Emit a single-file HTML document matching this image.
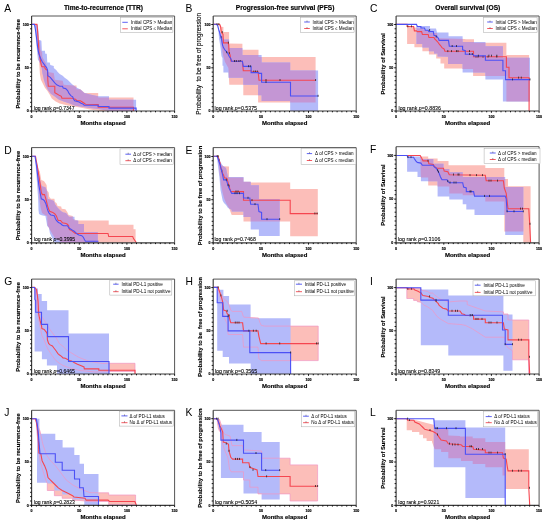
<!DOCTYPE html><html><head><meta charset="utf-8"><style>html,body{margin:0;padding:0;background:#fff;}svg{display:block;will-change:transform;}text{font-family:"Liberation Sans", sans-serif;}</style></head><body>
<svg width="550" height="525" viewBox="0 0 550 525">
<rect width="550" height="525" fill="#fff"/>
<polygon points="31.6,24.4 37.5,24.4 38,30 38.6,40 39.9,42 40.5,50 42,52 42.4,57 44,60 46.3,64 47.8,71.9 53.8,72.9 54.8,79.8 62.7,80.8 63.7,84.8 73.6,85.5 76.5,85.5 76.5,89.3 80.4,89.3 84.2,92.5 84.8,93.1 98.2,93.1 98.2,97.5 133.5,97.5 133.5,111 133.5,111 100,111 90,109.5 80,107.5 67.6,105.5 59.7,103.6 55.7,101.6 51.8,98.6 49.8,94.7 47.3,90.7 44.9,87.7 42.4,82.8 40.9,79.8 39.9,73.9 39.4,65.9 38.9,60 38.6,55 38.2,45 37.5,35 37,24.4" fill="rgb(252,190,185)"/>
<polygon points="31.6,24.4 34.5,24.4 37.4,24.6 38.4,29.9 38.9,39.8 41.4,40.8 41.9,50.7 44.9,50.7 45.3,53.7 46.8,53.7 47.3,62.6 49.8,62.6 50.3,65 53.8,65.9 53.8,67.9 56.2,69.9 57.7,71.9 59.7,73.9 62.7,75.8 64.7,77.8 67.6,79.8 69.6,81.8 71.6,83.8 73.6,85.5 76.5,87.5 80.4,89.5 84.2,93.1 90,94.5 98.2,96.3 109,96.3 109,99.7 136.1,99.7 136.1,111 136,111 110,111 98,109 90,108 80,106.5 74.6,105.5 69.6,103.6 63.7,101.6 58.7,99.6 54.8,96.6 50.8,93.7 47.8,89.7 45.8,85.7 43.9,79.8 42.4,72.9 41.4,65.9 39.5,62 37.9,59.6 36.9,49.7 35.9,39.8 35.4,29.9 34.3,24.4" fill="rgb(180,186,250)"/>
<clipPath id="c00"><polygon points="31.6,24.4 37.5,24.4 38,30 38.6,40 39.9,42 40.5,50 42,52 42.4,57 44,60 46.3,64 47.8,71.9 53.8,72.9 54.8,79.8 62.7,80.8 63.7,84.8 73.6,85.5 76.5,85.5 76.5,89.3 80.4,89.3 84.2,92.5 84.8,93.1 98.2,93.1 98.2,97.5 133.5,97.5 133.5,111 133.5,111 100,111 90,109.5 80,107.5 67.6,105.5 59.7,103.6 55.7,101.6 51.8,98.6 49.8,94.7 47.3,90.7 44.9,87.7 42.4,82.8 40.9,79.8 39.9,73.9 39.4,65.9 38.9,60 38.6,55 38.2,45 37.5,35 37,24.4"/></clipPath>
<polygon points="31.6,24.4 34.5,24.4 37.4,24.6 38.4,29.9 38.9,39.8 41.4,40.8 41.9,50.7 44.9,50.7 45.3,53.7 46.8,53.7 47.3,62.6 49.8,62.6 50.3,65 53.8,65.9 53.8,67.9 56.2,69.9 57.7,71.9 59.7,73.9 62.7,75.8 64.7,77.8 67.6,79.8 69.6,81.8 71.6,83.8 73.6,85.5 76.5,87.5 80.4,89.5 84.2,93.1 90,94.5 98.2,96.3 109,96.3 109,99.7 136.1,99.7 136.1,111 136,111 110,111 98,109 90,108 80,106.5 74.6,105.5 69.6,103.6 63.7,101.6 58.7,99.6 54.8,96.6 50.8,93.7 47.8,89.7 45.8,85.7 43.9,79.8 42.4,72.9 41.4,65.9 39.5,62 37.9,59.6 36.9,49.7 35.9,39.8 35.4,29.9 34.3,24.4" fill="rgb(196,150,212)" clip-path="url(#c00)"/>
<polyline points="31.6,24.4 36.9,24.4 37.1,25.8 37.6,31.5 38.1,39.1 38.6,46.8 39,53.4 40,58.2 40.9,63 41.4,65.8 41.9,66.8 44.7,66.8 45.2,68.7 46.7,70 47.5,70 47.8,79.8 48.3,86.2 54.8,86.2 54.8,92.7 56.7,93.7 59.7,95.6 61.3,96.3 61.9,98.2 72.7,98.2 74,98.8 75.9,99.5 76.5,100.7 80.4,100.7 82.3,102 84.2,103.3 85.5,104.3 98.2,104.5 98.2,107.3 133.5,107.3 133.5,111" fill="none" stroke="rgb(245,70,80)" stroke-width="1.1"/>
<polyline points="31.6,24.4 34.3,24.4 34.8,25.8 35.7,31.5 36.7,39.1 37.6,46.8 38.6,52.5 39.5,55.3 40.5,58.2 41.4,60.1 42.4,62 43.8,63.9 45.2,65.8 46.7,67.7 47.6,70.6 47.8,75.8 50.3,77.3 52.3,79.8 54.8,82.8 56.7,84.8 59.7,86.2 62.5,86.2 63.2,88 65.7,88.6 67.6,90.5 68.9,93.1 70.8,95.6 72.7,96.9 73.4,98.8 74.6,100.7 77.2,101.4 79.1,102 81,103.3 82.9,103.9 84.2,105.2 98.2,105.2 98.2,106.5 109,106.5 109,108.1 136.1,108.1 136.1,111" fill="none" stroke="rgb(75,80,245)" stroke-width="1.1"/>
<path d="M31.6 16H174.6V111" fill="none" stroke="#555" stroke-width="1"/>
<path d="M31.6 16V111H174.6" fill="none" stroke="#3a3a3a" stroke-width="1.15"/>
<path d="M31.6 111h-1.9M31.6 106.7h-1.5M31.6 102.3h-1.5M31.6 98h-1.5M31.6 93.7h-1.5M31.6 89.4h-1.5M31.6 85h-1.5M31.6 80.7h-1.5M31.6 76.4h-1.5M31.6 72.1h-1.5M31.6 67.8h-1.9M31.6 63.4h-1.5M31.6 59.1h-1.5M31.6 54.8h-1.5M31.6 50.5h-1.5M31.6 46.1h-1.5M31.6 41.8h-1.5M31.6 37.5h-1.5M31.6 33.2h-1.5M31.6 28.8h-1.5M31.6 24.5h-1.9M31.6 111v1.8M36.4 111v1.3M41.1 111v1.3M45.9 111v1.3M50.7 111v1.3M55.4 111v1.3M60.2 111v1.3M65 111v1.3M69.7 111v1.3M74.5 111v1.3M79.3 111v1.8M84 111v1.3M88.8 111v1.3M93.6 111v1.3M98.3 111v1.3M103.1 111v1.3M107.9 111v1.3M112.6 111v1.3M117.4 111v1.3M122.2 111v1.3M126.9 111v1.8M131.7 111v1.3M136.5 111v1.3M141.2 111v1.3M146 111v1.3M150.8 111v1.3M155.5 111v1.3M160.3 111v1.3M165.1 111v1.3M169.8 111v1.3M174.6 111v1.8" stroke="#111" stroke-width="1"/>
<text x="28.8" y="112.2" font-size="3.6" font-weight="bold" stroke="#000" stroke-width="0.15" text-anchor="end">0</text>
<text x="28.8" y="69" font-size="3.6" font-weight="bold" stroke="#000" stroke-width="0.15" text-anchor="end">50</text>
<text x="28.8" y="25.8" font-size="3.6" font-weight="bold" stroke="#000" stroke-width="0.15" text-anchor="end">100</text>
<text x="31.6" y="117.7" font-size="3.6" font-weight="bold" stroke="#000" stroke-width="0.15" text-anchor="middle">0</text>
<text x="79.3" y="117.7" font-size="3.6" font-weight="bold" stroke="#000" stroke-width="0.15" text-anchor="middle">50</text>
<text x="126.9" y="117.7" font-size="3.6" font-weight="bold" stroke="#000" stroke-width="0.15" text-anchor="middle">100</text>
<text x="174.6" y="117.7" font-size="3.6" font-weight="bold" stroke="#000" stroke-width="0.15" text-anchor="middle">150</text>
<text x="103.1" y="125" font-size="6" font-weight="bold" text-anchor="middle" stroke="#000" stroke-width="0.15">Months elapsed</text>
<text transform="translate(20 63.8) rotate(-90)" font-size="5.8" font-weight="bold" text-anchor="middle" stroke="#000" stroke-width="0.12" xml:space="preserve">Probability to be recurrence-free</text>
<text x="33.8" y="109.5" font-size="5.07" stroke="#000" stroke-width="0.08">log rank <tspan font-style="italic">p</tspan>=0.7347</text>
<rect x="120.3" y="17.3" width="52.6" height="15" fill="#fff" stroke="#aaa" stroke-width="0.5"/>
<path d="M122.3 22.3H127.8" stroke="rgb(75,80,245)" stroke-width="0.9"/>
<text x="131" y="23.9" font-size="4.55">Initial CPS > Median</text>
<path d="M122.3 28.8H127.8" stroke="rgb(245,70,80)" stroke-width="0.9"/>
<text x="131" y="30.4" font-size="4.55">Initial CPS ≤ Median</text>
<text x="4.3" y="12.2" font-size="10.3">A</text>
<text x="103.4" y="10" font-size="6.6" font-weight="bold" text-anchor="middle" stroke="#000" stroke-width="0.15">Time-to-recurrence (TTR)</text>
<polygon points="213.5,24.4 220.5,24.4 221,26.7 223.4,27.1 223.4,31.9 229.1,31.9 229.1,43.5 242.4,43.8 242.4,49.8 258.5,49.8 258.5,57 315.6,57 315.6,102.5 315.6,102.5 258.1,102.4 258.1,95.3 243.3,95.3 243.3,84.8 229.3,84.8 228.4,68 225,62 223,55 221.5,45 220.5,35 219.6,24.4 213.5,24.4" fill="rgb(252,190,185)"/>
<polygon points="213.5,24.4 217,24.4 219,30 221,34 222.5,36 223.4,39.5 229.1,39.5 229.1,48 242.4,48 242.4,55 261.6,55 261.6,62.5 290.2,62.5 290.2,70.5 318.1,70.5 318.1,111 318.1,111 290.2,111 290.2,101 261.6,101 261.6,95.3 258.1,95.3 258.1,84.8 243.3,84.8 243.3,77.8 228.4,77.8 228.4,72.5 223.4,72.5 223.4,65.7 222.5,65.7 222.5,58.1 221.5,56.2 220.6,48.6 220.1,44.8 219.1,39 218.7,34.3 218.2,29.5 217.2,24.8 217,24.4 213.5,24.4" fill="rgb(180,186,250)"/>
<clipPath id="c01"><polygon points="213.5,24.4 220.5,24.4 221,26.7 223.4,27.1 223.4,31.9 229.1,31.9 229.1,43.5 242.4,43.8 242.4,49.8 258.5,49.8 258.5,57 315.6,57 315.6,102.5 315.6,102.5 258.1,102.4 258.1,95.3 243.3,95.3 243.3,84.8 229.3,84.8 228.4,68 225,62 223,55 221.5,45 220.5,35 219.6,24.4 213.5,24.4"/></clipPath>
<polygon points="213.5,24.4 217,24.4 219,30 221,34 222.5,36 223.4,39.5 229.1,39.5 229.1,48 242.4,48 242.4,55 261.6,55 261.6,62.5 290.2,62.5 290.2,70.5 318.1,70.5 318.1,111 318.1,111 290.2,111 290.2,101 261.6,101 261.6,95.3 258.1,95.3 258.1,84.8 243.3,84.8 243.3,77.8 228.4,77.8 228.4,72.5 223.4,72.5 223.4,65.7 222.5,65.7 222.5,58.1 221.5,56.2 220.6,48.6 220.1,44.8 219.1,39 218.7,34.3 218.2,29.5 217.2,24.8 217,24.4 213.5,24.4" fill="rgb(196,150,212)" clip-path="url(#c01)"/>
<polyline points="213.5,24.3 219.6,24.3 220.6,26.7 221,29.5 221.5,32.4 223,34.3 223.4,42.9 228.2,42.9 228.7,44.8 229.1,52.4 230.1,55.2 230.6,59 231,61.2 242.4,61.2 243.3,70.8 251.1,70.8 252,71.7 258.1,71.7 259,80.2 315.6,80.2" fill="none" stroke="rgb(245,70,80)" stroke-width="1.1"/>
<path d="M222.3 33.1v-2M221.4 38.3v-2M228.4 43.6v-2M229.3 54.1v-2M240.6 62v-2M253.8 72.5v-2M255.5 72.5v-2M257.3 72.5v-2M266 81v-2M280 81v-2M315.6 81v-2" stroke="#222" stroke-width="0.75"/>
<polyline points="213.5,24.3 216.8,24.3 217.7,25.7 218.7,29.5 219.6,32.4 220.6,36.7 221.5,39 222,41.9 222.5,44.8 223.4,47.6 225.3,50.5 227.2,52.4 228.2,54.3 229.1,56.2 231,59 231.5,61.2 242.4,61.2 243.3,66.4 251.1,66.4 251.1,72.6 258.1,72.6 259,73.4 261.6,73.4 261.6,82.2 290.5,82.2 290.5,96 318.1,96" fill="none" stroke="rgb(75,80,245)" stroke-width="1.1"/>
<path d="M217 25.2v-2M218.8 25.2v-2M226.6 53.2v-2M234.5 62v-2M236.3 62v-2M238.9 62v-2M248.5 67.2v-2M250.3 67.2v-2M266 83v-2M318.1 96.8v-2" stroke="#222" stroke-width="0.75"/>
<path d="M213.2 16H356.2V111" fill="none" stroke="#555" stroke-width="1"/>
<path d="M213.2 16V111H356.2" fill="none" stroke="#3a3a3a" stroke-width="1.15"/>
<path d="M213.2 111h-1.9M213.2 106.7h-1.5M213.2 102.3h-1.5M213.2 98h-1.5M213.2 93.7h-1.5M213.2 89.4h-1.5M213.2 85h-1.5M213.2 80.7h-1.5M213.2 76.4h-1.5M213.2 72.1h-1.5M213.2 67.8h-1.9M213.2 63.4h-1.5M213.2 59.1h-1.5M213.2 54.8h-1.5M213.2 50.5h-1.5M213.2 46.1h-1.5M213.2 41.8h-1.5M213.2 37.5h-1.5M213.2 33.2h-1.5M213.2 28.8h-1.5M213.2 24.5h-1.9M213.2 111v1.8M218 111v1.3M222.7 111v1.3M227.5 111v1.3M232.3 111v1.3M237 111v1.3M241.8 111v1.3M246.6 111v1.3M251.3 111v1.3M256.1 111v1.3M260.9 111v1.8M265.6 111v1.3M270.4 111v1.3M275.2 111v1.3M279.9 111v1.3M284.7 111v1.3M289.5 111v1.3M294.2 111v1.3M299 111v1.3M303.8 111v1.3M308.5 111v1.8M313.3 111v1.3M318.1 111v1.3M322.8 111v1.3M327.6 111v1.3M332.4 111v1.3M337.1 111v1.3M341.9 111v1.3M346.7 111v1.3M351.4 111v1.3M356.2 111v1.8" stroke="#111" stroke-width="1"/>
<text x="210.4" y="112.2" font-size="3.6" font-weight="bold" stroke="#000" stroke-width="0.15" text-anchor="end">0</text>
<text x="210.4" y="69" font-size="3.6" font-weight="bold" stroke="#000" stroke-width="0.15" text-anchor="end">50</text>
<text x="210.4" y="25.8" font-size="3.6" font-weight="bold" stroke="#000" stroke-width="0.15" text-anchor="end">100</text>
<text x="213.2" y="117.7" font-size="3.6" font-weight="bold" stroke="#000" stroke-width="0.15" text-anchor="middle">0</text>
<text x="260.9" y="117.7" font-size="3.6" font-weight="bold" stroke="#000" stroke-width="0.15" text-anchor="middle">50</text>
<text x="308.5" y="117.7" font-size="3.6" font-weight="bold" stroke="#000" stroke-width="0.15" text-anchor="middle">100</text>
<text x="356.2" y="117.7" font-size="3.6" font-weight="bold" stroke="#000" stroke-width="0.15" text-anchor="middle">150</text>
<text x="284.7" y="125" font-size="6" font-weight="bold" text-anchor="middle" stroke="#000" stroke-width="0.15">Months elapsed</text>
<text transform="translate(201.3 63.8) rotate(-90)" font-size="6.33" text-anchor="middle" stroke="#000" stroke-width="0.1" xml:space="preserve">Probability  to be free of progression</text>
<text x="214.6" y="109.5" font-size="5.29" stroke="#000" stroke-width="0.08">log rank <tspan font-style="italic">p</tspan>=0.5375</text>
<rect x="300.3" y="17.3" width="53.8" height="15" fill="#fff" stroke="#aaa" stroke-width="0.5"/>
<path d="M304.2 22H309.8" stroke="rgb(75,80,245)" stroke-width="0.9"/>
<path d="M307 22v-1.5" stroke="#444" stroke-width="0.5"/>
<text x="312.5" y="23.6" font-size="4.55">Initial CPS > Median</text>
<path d="M304.2 28.5H309.8" stroke="rgb(245,70,80)" stroke-width="0.9"/>
<path d="M307 28.5v-1.5" stroke="#444" stroke-width="0.5"/>
<text x="312.5" y="30.1" font-size="4.55">Initial CPS ≤ Median</text>
<text x="185.5" y="12.2" font-size="10.3">B</text>
<text x="285.1" y="10" font-size="6.6" font-weight="bold" text-anchor="middle" stroke="#000" stroke-width="0.15">Progression-free survival (PFS)</text>
<polygon points="395.5,24.4 407.1,24.4 407.5,26 414,26 414.5,27.5 417,27.5 417.5,28.5 423,28.5 424,30 429,30.5 430,33 437,33 438,38.2 465.3,38.9 465.3,39.3 474,39.3 474,42.8 506.4,42.8 506.4,55 529.1,55 529.1,101.5 529.1,101.5 506.4,101.5 506.4,76 473.1,76 473.1,69 462.4,69 462.4,68.5 444.2,68.5 444.2,63.6 440.5,63.6 440.5,58.5 436.2,58.5 436.2,54.5 428.9,54.5 428.9,51.3 422.4,51.3 422.4,47.3 414.4,47.3 414.4,44 407.1,44 407.1,24.4" fill="rgb(252,190,185)"/>
<polygon points="395.5,24.4 416.5,24.4 417.5,26 430,26 430,28.5 436,28.5 437,32.4 448.5,32.4 448.5,36.3 462.6,36.3 462.6,41.9 485.4,41.9 485.4,46.3 502.9,46.3 502.9,57.7 530,57.7 530,101.5 530,101.5 502.9,101.5 502.9,79.6 485.4,79.6 485.4,72.6 462.6,72.6 462.6,64 448,64 448,56.7 440.5,56.4 437.6,56.4 437.6,53.5 434,53.5 434,51.3 428.9,51.3 428.9,47.6 422.4,47.6 422.4,44 416.5,44 416.5,24.4" fill="rgb(180,186,250)"/>
<clipPath id="c02"><polygon points="395.5,24.4 407.1,24.4 407.5,26 414,26 414.5,27.5 417,27.5 417.5,28.5 423,28.5 424,30 429,30.5 430,33 437,33 438,38.2 465.3,38.9 465.3,39.3 474,39.3 474,42.8 506.4,42.8 506.4,55 529.1,55 529.1,101.5 529.1,101.5 506.4,101.5 506.4,76 473.1,76 473.1,69 462.4,69 462.4,68.5 444.2,68.5 444.2,63.6 440.5,63.6 440.5,58.5 436.2,58.5 436.2,54.5 428.9,54.5 428.9,51.3 422.4,51.3 422.4,47.3 414.4,47.3 414.4,44 407.1,44 407.1,24.4"/></clipPath>
<polygon points="395.5,24.4 416.5,24.4 417.5,26 430,26 430,28.5 436,28.5 437,32.4 448.5,32.4 448.5,36.3 462.6,36.3 462.6,41.9 485.4,41.9 485.4,46.3 502.9,46.3 502.9,57.7 530,57.7 530,101.5 530,101.5 502.9,101.5 502.9,79.6 485.4,79.6 485.4,72.6 462.6,72.6 462.6,64 448,64 448,56.7 440.5,56.4 437.6,56.4 437.6,53.5 434,53.5 434,51.3 428.9,51.3 428.9,47.6 422.4,47.6 422.4,44 416.5,44 416.5,24.4" fill="rgb(196,150,212)" clip-path="url(#c02)"/>
<polyline points="395.5,24.4 407.1,24.4 407.1,26.5 413.6,26.5 414.4,30.9 416.5,30.9 417.3,31.6 421.6,31.6 422.4,34.5 428.2,34.5 428.9,37.5 434,37.5 434.7,38.9 436.2,40.4 437.6,41.8 439.1,44 440.5,45.5 442,47.6 444.2,49.1 444.9,51.3 473.5,51.3 473.5,56.8 506.4,56.8 506.4,67.3 509,67.3 509,77.8 529.1,77.8 529.1,111" fill="none" stroke="rgb(245,70,80)" stroke-width="1.1"/>
<path d="M407.8 27.3v-2M411.5 27.3v-2M447.8 52.1v-2M451.5 52.1v-2M456.5 52.1v-2M458 52.1v-2M469.5 52.1v-2M476 57.6v-2M478 57.6v-2M483 57.6v-2M488 57.6v-2M496.8 57.6v-2M518.6 78.6v-2M521.3 78.6v-2" stroke="#222" stroke-width="0.75"/>
<polyline points="395.5,24.4 416.5,24.4 417.3,26.5 420.9,26.5 420.9,28 424.5,28 425.3,30.2 428.2,30.2 428.9,31.6 433.3,31.6 434,35.3 436.2,36 437.6,37.5 438.4,38.2 439.1,40.4 448.5,40.4 449.3,46.2 462.6,46.2 462.6,49.8 465.3,50.7 465.3,54.2 473.1,54.2 474,55.9 485.4,55.9 485.4,60.3 502.9,60.3 502.9,70.8 505.5,70.8 505.5,79.6 530,79.6" fill="none" stroke="rgb(75,80,245)" stroke-width="1.1"/>
<path d="M429.6 31v-2M436.2 37.5v-2M452.2 47v-2M456.5 47v-2M469.6 55v-2M472.3 55v-2M478.4 56.7v-2M488.9 56.7v-2M491.5 56.7v-2M496.8 56.7v-2M512.5 80.4v-2M530 80.4v-2" stroke="#222" stroke-width="0.75"/>
<path d="M396.1 16H539.1V111" fill="none" stroke="#555" stroke-width="1"/>
<path d="M396.1 16V111H539.1" fill="none" stroke="#3a3a3a" stroke-width="1.15"/>
<path d="M396.1 111h-1.9M396.1 106.7h-1.5M396.1 102.3h-1.5M396.1 98h-1.5M396.1 93.7h-1.5M396.1 89.4h-1.5M396.1 85h-1.5M396.1 80.7h-1.5M396.1 76.4h-1.5M396.1 72.1h-1.5M396.1 67.8h-1.9M396.1 63.4h-1.5M396.1 59.1h-1.5M396.1 54.8h-1.5M396.1 50.5h-1.5M396.1 46.1h-1.5M396.1 41.8h-1.5M396.1 37.5h-1.5M396.1 33.2h-1.5M396.1 28.8h-1.5M396.1 24.5h-1.9M396.1 111v1.8M400.9 111v1.3M405.6 111v1.3M410.4 111v1.3M415.2 111v1.3M419.9 111v1.3M424.7 111v1.3M429.5 111v1.3M434.2 111v1.3M439 111v1.3M443.8 111v1.8M448.5 111v1.3M453.3 111v1.3M458.1 111v1.3M462.8 111v1.3M467.6 111v1.3M472.4 111v1.3M477.1 111v1.3M481.9 111v1.3M486.7 111v1.3M491.4 111v1.8M496.2 111v1.3M501 111v1.3M505.7 111v1.3M510.5 111v1.3M515.3 111v1.3M520 111v1.3M524.8 111v1.3M529.6 111v1.3M534.3 111v1.3M539.1 111v1.8" stroke="#111" stroke-width="1"/>
<text x="393.3" y="112.2" font-size="3.6" font-weight="bold" stroke="#000" stroke-width="0.15" text-anchor="end">0</text>
<text x="393.3" y="69" font-size="3.6" font-weight="bold" stroke="#000" stroke-width="0.15" text-anchor="end">50</text>
<text x="393.3" y="25.8" font-size="3.6" font-weight="bold" stroke="#000" stroke-width="0.15" text-anchor="end">100</text>
<text x="396.1" y="117.7" font-size="3.6" font-weight="bold" stroke="#000" stroke-width="0.15" text-anchor="middle">0</text>
<text x="443.8" y="117.7" font-size="3.6" font-weight="bold" stroke="#000" stroke-width="0.15" text-anchor="middle">50</text>
<text x="491.4" y="117.7" font-size="3.6" font-weight="bold" stroke="#000" stroke-width="0.15" text-anchor="middle">100</text>
<text x="539.1" y="117.7" font-size="3.6" font-weight="bold" stroke="#000" stroke-width="0.15" text-anchor="middle">150</text>
<text x="467.6" y="125" font-size="6" font-weight="bold" text-anchor="middle" stroke="#000" stroke-width="0.15">Months elapsed</text>
<text transform="translate(384.5 63.8) rotate(-90)" font-size="5.8" font-weight="bold" text-anchor="middle" stroke="#000" stroke-width="0.12" xml:space="preserve">Probability of Survival</text>
<text x="398.5" y="109.5" font-size="5.29" stroke="#000" stroke-width="0.08">log rank <tspan font-style="italic">p</tspan>=0.8836</text>
<rect x="483.3" y="17.3" width="53.8" height="15" fill="#fff" stroke="#aaa" stroke-width="0.5"/>
<path d="M487.2 22H492.8" stroke="rgb(75,80,245)" stroke-width="0.9"/>
<path d="M490 22v-1.5" stroke="#444" stroke-width="0.5"/>
<text x="495.5" y="23.6" font-size="4.55">Initial CPS > Median</text>
<path d="M487.2 28.5H492.8" stroke="rgb(245,70,80)" stroke-width="0.9"/>
<path d="M490 28.5v-1.5" stroke="#444" stroke-width="0.5"/>
<text x="495.5" y="30.1" font-size="4.55">Initial CPS ≤ Median</text>
<text x="369.9" y="12.2" font-size="10.3">C</text>
<text x="467.8" y="10" font-size="6.6" font-weight="bold" text-anchor="middle" stroke="#000" stroke-width="0.15">Overall survival (OS)</text>
<polygon points="31.8,156.3 35.5,156.3 36.1,160 38.7,169.4 39.8,171.5 41.3,179.9 43.9,181 45,182.5 46.6,185.1 47.1,190.4 48.7,192.5 49.2,196.7 50.8,198.8 54.4,198.8 54.9,201.9 56.5,203 57.6,206.1 61.2,206.6 61.7,208.7 65.4,209.2 67.5,212.4 68.6,215 72.8,216 72.8,219 77.5,220.5 108.7,220.5 108.7,224.8 133.5,224.8 133.5,229.2 135.6,229.2 135.6,242.8 135.6,242.8 62,242.8 58,240 55,238 53,235 50,230 47.5,225 47.2,216 45,215 42,213 40.5,207 39.5,200 38.5,190 37.5,178 36.5,165 36,156.3" fill="rgb(252,190,185)"/>
<polygon points="31.8,156.3 35.4,156.3 36.5,162 38,170 39.5,178 41,184 41.9,186.2 45.5,187.2 47.1,191.4 47.6,198.8 50.8,199.8 53.9,200.9 54.9,204 57,207.1 59.1,209.2 61.2,211.3 63.3,212.4 66,213 69,216.8 74.5,216.8 74.5,220.5 78.2,220.5 78.2,224.1 84,224.1 84,232.1 97.8,232.1 97.8,242.8 97.8,242.8 55,242.8 53.5,240.5 51.7,236.9 49.9,233.2 49,227.8 47.2,226 46.3,220.6 45.4,216 42.7,215.5 40.9,215 39,214 38.5,210 38.2,200 37.5,190 36.8,180 36,170 35.4,162 35,156.3" fill="rgb(180,186,250)"/>
<clipPath id="c10"><polygon points="31.8,156.3 35.5,156.3 36.1,160 38.7,169.4 39.8,171.5 41.3,179.9 43.9,181 45,182.5 46.6,185.1 47.1,190.4 48.7,192.5 49.2,196.7 50.8,198.8 54.4,198.8 54.9,201.9 56.5,203 57.6,206.1 61.2,206.6 61.7,208.7 65.4,209.2 67.5,212.4 68.6,215 72.8,216 72.8,219 77.5,220.5 108.7,220.5 108.7,224.8 133.5,224.8 133.5,229.2 135.6,229.2 135.6,242.8 135.6,242.8 62,242.8 58,240 55,238 53,235 50,230 47.5,225 47.2,216 45,215 42,213 40.5,207 39.5,200 38.5,190 37.5,178 36.5,165 36,156.3"/></clipPath>
<polygon points="31.8,156.3 35.4,156.3 36.5,162 38,170 39.5,178 41,184 41.9,186.2 45.5,187.2 47.1,191.4 47.6,198.8 50.8,199.8 53.9,200.9 54.9,204 57,207.1 59.1,209.2 61.2,211.3 63.3,212.4 66,213 69,216.8 74.5,216.8 74.5,220.5 78.2,220.5 78.2,224.1 84,224.1 84,232.1 97.8,232.1 97.8,242.8 97.8,242.8 55,242.8 53.5,240.5 51.7,236.9 49.9,233.2 49,227.8 47.2,226 46.3,220.6 45.4,216 42.7,215.5 40.9,215 39,214 38.5,210 38.2,200 37.5,190 36.8,180 36,170 35.4,162 35,156.3" fill="rgb(196,150,212)" clip-path="url(#c10)"/>
<polyline points="31.8,156.3 35.5,156.3 36.1,160 37.1,165.2 38.2,171.5 39.2,177.8 40.3,185.1 41.3,192.5 42.4,194.6 44.5,194.6 45.5,197.7 46.6,201.9 47.6,206.1 48.7,209.2 49.7,211.3 52.8,212.4 54.9,214 56.4,215.9 57.5,219 58.3,220.5 60.6,220.5 61.7,222 62.5,222.8 65.9,223.5 67.4,224.3 68.6,225.8 69,228.1 69.5,229.6 71.6,230.6 74.5,232.8 75.3,233.5 108,233.5 108.7,236.5 132.7,236.5 133.5,238.6 135.6,241.5 136.4,242.8" fill="none" stroke="rgb(245,70,80)" stroke-width="1.1"/>
<polyline points="31.8,156.3 35,156.3 35.6,160 36.6,166.3 37.7,175.7 38.7,184.1 40.3,193.5 41.3,198.8 43.4,199.8 44.5,200.9 46,204 47.1,208.2 48.1,211.3 49.2,213.4 50.8,215 53.3,215.5 54.5,215.9 55.2,218.2 56.4,220.5 57.9,222 59,222.8 60.6,223.5 62.1,225 63.6,225.8 67.4,225.8 69,228.1 70.9,229.2 73.1,230.6 74.5,231.4 76,232.8 77.5,234.3 78.9,235 81.8,235.7 83.3,237.2 84.7,240.1 85.5,241.3 98.5,241.3" fill="none" stroke="rgb(75,80,245)" stroke-width="1.1"/>
<path d="M31.6 147.6H174.6V242.8" fill="none" stroke="#555" stroke-width="1"/>
<path d="M31.6 147.6V242.8H174.6" fill="none" stroke="#3a3a3a" stroke-width="1.15"/>
<path d="M31.6 242.8h-1.9M31.6 238.5h-1.5M31.6 234.2h-1.5M31.6 229.9h-1.5M31.6 225.6h-1.5M31.6 221.3h-1.5M31.6 216.9h-1.5M31.6 212.6h-1.5M31.6 208.3h-1.5M31.6 204h-1.5M31.6 199.7h-1.9M31.6 195.4h-1.5M31.6 191h-1.5M31.6 186.7h-1.5M31.6 182.4h-1.5M31.6 178.1h-1.5M31.6 173.8h-1.5M31.6 169.5h-1.5M31.6 165.1h-1.5M31.6 160.8h-1.5M31.6 156.5h-1.9M31.6 242.8v1.8M36.4 242.8v1.3M41.1 242.8v1.3M45.9 242.8v1.3M50.7 242.8v1.3M55.4 242.8v1.3M60.2 242.8v1.3M65 242.8v1.3M69.7 242.8v1.3M74.5 242.8v1.3M79.3 242.8v1.8M84 242.8v1.3M88.8 242.8v1.3M93.6 242.8v1.3M98.3 242.8v1.3M103.1 242.8v1.3M107.9 242.8v1.3M112.6 242.8v1.3M117.4 242.8v1.3M122.2 242.8v1.3M126.9 242.8v1.8M131.7 242.8v1.3M136.5 242.8v1.3M141.2 242.8v1.3M146 242.8v1.3M150.8 242.8v1.3M155.5 242.8v1.3M160.3 242.8v1.3M165.1 242.8v1.3M169.8 242.8v1.3M174.6 242.8v1.8" stroke="#111" stroke-width="1"/>
<text x="28.8" y="244.1" font-size="3.6" font-weight="bold" stroke="#000" stroke-width="0.15" text-anchor="end">0</text>
<text x="28.8" y="200.9" font-size="3.6" font-weight="bold" stroke="#000" stroke-width="0.15" text-anchor="end">50</text>
<text x="28.8" y="157.8" font-size="3.6" font-weight="bold" stroke="#000" stroke-width="0.15" text-anchor="end">100</text>
<text x="31.6" y="249.5" font-size="3.6" font-weight="bold" stroke="#000" stroke-width="0.15" text-anchor="middle">0</text>
<text x="79.3" y="249.5" font-size="3.6" font-weight="bold" stroke="#000" stroke-width="0.15" text-anchor="middle">50</text>
<text x="126.9" y="249.5" font-size="3.6" font-weight="bold" stroke="#000" stroke-width="0.15" text-anchor="middle">100</text>
<text x="174.6" y="249.5" font-size="3.6" font-weight="bold" stroke="#000" stroke-width="0.15" text-anchor="middle">150</text>
<text x="103.1" y="256.9" font-size="6" font-weight="bold" text-anchor="middle" stroke="#000" stroke-width="0.15">Months elapsed</text>
<text transform="translate(20 195.5) rotate(-90)" font-size="5.8" font-weight="bold" text-anchor="middle" stroke="#000" stroke-width="0.12" xml:space="preserve">Probability to be recurrence-free</text>
<text x="33.8" y="241.3" font-size="5.17" stroke="#000" stroke-width="0.08">log rank <tspan font-style="italic">p</tspan>=0.3995</text>
<rect x="120" y="148.9" width="53.2" height="15.4" fill="#fff" stroke="#aaa" stroke-width="0.5"/>
<path d="M125.4 154.2H131" stroke="rgb(75,80,245)" stroke-width="0.9"/>
<path d="M128.2 154.2v-1.5" stroke="#444" stroke-width="0.5"/>
<text x="133.3" y="155.8" font-size="4.55">Δ of CPS > median</text>
<path d="M125.4 160.7H131" stroke="rgb(245,70,80)" stroke-width="0.9"/>
<path d="M128.2 160.7v-1.5" stroke="#444" stroke-width="0.5"/>
<text x="133.3" y="162.3" font-size="4.55">Δ of CPS ≤ median</text>
<text x="4.3" y="153.5" font-size="10.3">D</text>
<polygon points="213.6,156.3 218.1,156.3 219,158 220,162 221,165 223.6,166.3 229,166.5 229,177.5 243.5,177.5 243.5,181.7 250.7,181.7 250.7,182.5 290.2,182.5 290.2,188.9 317.8,188.9 317.8,236.2 317.8,236.2 290.2,236.2 290.2,221.6 243.5,221.5 243.5,215.1 231.7,215.1 229,208 226,203 224,198 222.5,192 221,185 219.8,175 218.8,165 218.1,156.3" fill="rgb(252,190,185)"/>
<polygon points="213.6,156.3 217.2,156.3 218,158 219.5,160 221,163 223,166 226,168 228,177 243.5,177 243.5,181.7 250.7,181.7 250.7,185.3 258.9,185.3 258.9,198.9 279.7,198.9 279.7,236 279.7,236 258.9,236 258.9,229.6 250.7,229.6 250.7,217 243.5,217 243.5,211.5 231.7,211.5 231.7,209.7 228,208 226,205 224,203 222.7,200.7 220.5,190 219.5,178 218.5,170 217.5,162 217.2,156.3" fill="rgb(180,186,250)"/>
<clipPath id="c11"><polygon points="213.6,156.3 218.1,156.3 219,158 220,162 221,165 223.6,166.3 229,166.5 229,177.5 243.5,177.5 243.5,181.7 250.7,181.7 250.7,182.5 290.2,182.5 290.2,188.9 317.8,188.9 317.8,236.2 317.8,236.2 290.2,236.2 290.2,221.6 243.5,221.5 243.5,215.1 231.7,215.1 229,208 226,203 224,198 222.5,192 221,185 219.8,175 218.8,165 218.1,156.3"/></clipPath>
<polygon points="213.6,156.3 217.2,156.3 218,158 219.5,160 221,163 223,166 226,168 228,177 243.5,177 243.5,181.7 250.7,181.7 250.7,185.3 258.9,185.3 258.9,198.9 279.7,198.9 279.7,236 279.7,236 258.9,236 258.9,229.6 250.7,229.6 250.7,217 243.5,217 243.5,211.5 231.7,211.5 231.7,209.7 228,208 226,205 224,203 222.7,200.7 220.5,190 219.5,178 218.5,170 217.5,162 217.2,156.3" fill="rgb(196,150,212)" clip-path="url(#c11)"/>
<polyline points="213.6,156.3 218.1,156.3 219,160 220,162.7 220.9,168.1 221.8,170.8 222.7,173.5 223.6,175.3 224.5,178 226.3,178 227.2,179 228.1,182.6 229.9,188.9 230.8,191.6 243.5,191.6 243.5,200.3 290.2,200.3 290.2,213.6 317.8,213.6" fill="none" stroke="rgb(245,70,80)" stroke-width="1.1"/>
<path d="M219 160.8v-2M221.8 171.6v-2M229 186.8v-2M236 192.4v-2M238 192.4v-2M252 201.1v-2M314.9 214.4v-2M317.1 214.4v-2" stroke="#222" stroke-width="0.75"/>
<polyline points="213.6,156.3 217.2,156.3 218.1,159 220,164.5 220.9,168.1 221.8,171.7 222.7,175.3 223.6,179.9 226.3,179.9 227.2,182.6 228.1,185.3 229,188 229.9,189.8 230.8,191.6 231.7,193.4 243.5,193.4 243.5,198 249.8,198 250.7,204.3 258,204.3 258.9,211.5 261.6,212.4 261.6,219.3 279.7,219.3" fill="none" stroke="rgb(75,80,245)" stroke-width="1.1"/>
<path d="M217.2 157.1v-2M218.1 157.1v-2M226.3 180.7v-2M228.1 186.1v-2M235 194.2v-2M237 194.2v-2M239.5 194.2v-2M248 198.8v-2M255 205.1v-2M267 220.1v-2M279.7 220.1v-2" stroke="#222" stroke-width="0.75"/>
<path d="M213.2 147.6H356.2V242.8" fill="none" stroke="#555" stroke-width="1"/>
<path d="M213.2 147.6V242.8H356.2" fill="none" stroke="#3a3a3a" stroke-width="1.15"/>
<path d="M213.2 242.8h-1.9M213.2 238.5h-1.5M213.2 234.2h-1.5M213.2 229.9h-1.5M213.2 225.6h-1.5M213.2 221.3h-1.5M213.2 216.9h-1.5M213.2 212.6h-1.5M213.2 208.3h-1.5M213.2 204h-1.5M213.2 199.7h-1.9M213.2 195.4h-1.5M213.2 191h-1.5M213.2 186.7h-1.5M213.2 182.4h-1.5M213.2 178.1h-1.5M213.2 173.8h-1.5M213.2 169.5h-1.5M213.2 165.1h-1.5M213.2 160.8h-1.5M213.2 156.5h-1.9M213.2 242.8v1.8M218 242.8v1.3M222.7 242.8v1.3M227.5 242.8v1.3M232.3 242.8v1.3M237 242.8v1.3M241.8 242.8v1.3M246.6 242.8v1.3M251.3 242.8v1.3M256.1 242.8v1.3M260.9 242.8v1.8M265.6 242.8v1.3M270.4 242.8v1.3M275.2 242.8v1.3M279.9 242.8v1.3M284.7 242.8v1.3M289.5 242.8v1.3M294.2 242.8v1.3M299 242.8v1.3M303.8 242.8v1.3M308.5 242.8v1.8M313.3 242.8v1.3M318.1 242.8v1.3M322.8 242.8v1.3M327.6 242.8v1.3M332.4 242.8v1.3M337.1 242.8v1.3M341.9 242.8v1.3M346.7 242.8v1.3M351.4 242.8v1.3M356.2 242.8v1.8" stroke="#111" stroke-width="1"/>
<text x="210.4" y="244.1" font-size="3.6" font-weight="bold" stroke="#000" stroke-width="0.15" text-anchor="end">0</text>
<text x="210.4" y="200.9" font-size="3.6" font-weight="bold" stroke="#000" stroke-width="0.15" text-anchor="end">50</text>
<text x="210.4" y="157.8" font-size="3.6" font-weight="bold" stroke="#000" stroke-width="0.15" text-anchor="end">100</text>
<text x="213.2" y="249.5" font-size="3.6" font-weight="bold" stroke="#000" stroke-width="0.15" text-anchor="middle">0</text>
<text x="260.9" y="249.5" font-size="3.6" font-weight="bold" stroke="#000" stroke-width="0.15" text-anchor="middle">50</text>
<text x="308.5" y="249.5" font-size="3.6" font-weight="bold" stroke="#000" stroke-width="0.15" text-anchor="middle">100</text>
<text x="356.2" y="249.5" font-size="3.6" font-weight="bold" stroke="#000" stroke-width="0.15" text-anchor="middle">150</text>
<text x="284.7" y="256.9" font-size="6" font-weight="bold" text-anchor="middle" stroke="#000" stroke-width="0.15">Months elapsed</text>
<text transform="translate(201.6 195.5) rotate(-90)" font-size="5.78" font-weight="bold" text-anchor="middle" stroke="#000" stroke-width="0.12" xml:space="preserve">Probability to be free of progression</text>
<text x="214.4" y="241.3" font-size="5.16" stroke="#000" stroke-width="0.08">log rank <tspan font-style="italic">p</tspan>=0.7468</text>
<rect x="301.1" y="148.5" width="54.8" height="15.8" fill="#fff" stroke="#aaa" stroke-width="0.5"/>
<path d="M306.8 153.6H312.1" stroke="rgb(75,80,245)" stroke-width="0.9"/>
<path d="M309.5 153.6v-1.5" stroke="#444" stroke-width="0.5"/>
<text x="315.1" y="155.2" font-size="4.55">Δ of CPS > median</text>
<path d="M306.8 160.5H312.1" stroke="rgb(245,70,80)" stroke-width="0.9"/>
<path d="M309.5 160.5v-1.5" stroke="#444" stroke-width="0.5"/>
<text x="315.1" y="162.2" font-size="4.55">Δ of CPS ≤ median</text>
<text x="185.5" y="153.5" font-size="10.3">E</text>
<polygon points="396.2,155.5 420.2,155.5 421,156.5 428.2,156.5 428.2,158.5 437.6,158.5 437.6,160.9 448.5,160.9 448.5,165.3 485.3,165.3 485.3,168.1 504.3,168.1 504.3,179 508,179 508,186.2 530.6,186.2 530.6,242.8 530.6,242.8 523.3,242.8 523.3,231.4 504.3,231.4 504.3,201.6 485.3,201.6 485.3,195.2 462.7,195.2 462.7,193.6 449.3,193.6 449.3,186.4 437.6,186.4 437.6,185.6 428.2,185.6 428.2,177.6 420.9,177.6 420.5,165 420.2,155.5" fill="rgb(252,190,185)"/>
<polygon points="396.2,155.5 407.1,155.5 407.5,156.5 420.9,156.5 420.9,159 433.3,159 433.3,163.8 443.5,163.8 443.5,169 449.3,169 449.3,172.2 462.7,172.2 462.7,177.1 505.2,177.1 505.2,187.1 523.3,187.1 523.3,235 523.3,235 505.2,235 505.2,215.1 474.5,215.1 474.5,209.6 466.3,209.6 466.3,204.3 462.7,204.3 462.7,199.5 449.3,199.5 449.3,196.5 437.6,196.5 437.6,181.3 420.9,181.3 420.9,176.9 417.5,176.9 417.5,171.8 407.1,171.8 407.1,155.5" fill="rgb(180,186,250)"/>
<clipPath id="c12"><polygon points="396.2,155.5 420.2,155.5 421,156.5 428.2,156.5 428.2,158.5 437.6,158.5 437.6,160.9 448.5,160.9 448.5,165.3 485.3,165.3 485.3,168.1 504.3,168.1 504.3,179 508,179 508,186.2 530.6,186.2 530.6,242.8 530.6,242.8 523.3,242.8 523.3,231.4 504.3,231.4 504.3,201.6 485.3,201.6 485.3,195.2 462.7,195.2 462.7,193.6 449.3,193.6 449.3,186.4 437.6,186.4 437.6,185.6 428.2,185.6 428.2,177.6 420.9,177.6 420.5,165 420.2,155.5"/></clipPath>
<polygon points="396.2,155.5 407.1,155.5 407.5,156.5 420.9,156.5 420.9,159 433.3,159 433.3,163.8 443.5,163.8 443.5,169 449.3,169 449.3,172.2 462.7,172.2 462.7,177.1 505.2,177.1 505.2,187.1 523.3,187.1 523.3,235 523.3,235 505.2,235 505.2,215.1 474.5,215.1 474.5,209.6 466.3,209.6 466.3,204.3 462.7,204.3 462.7,199.5 449.3,199.5 449.3,196.5 437.6,196.5 437.6,181.3 420.9,181.3 420.9,176.9 417.5,176.9 417.5,171.8 407.1,171.8 407.1,155.5" fill="rgb(196,150,212)" clip-path="url(#c12)"/>
<polyline points="396.2,155.5 420.2,155.5 421.6,158 423.1,160.9 428.2,160.9 428.9,163.8 433.3,164.5 434,166 435.5,167.5 436.9,168.2 443.5,168.2 444.2,171.1 447.8,171.8 449.3,174.7 485.3,175.3 486.2,180.8 503.4,180.8 504.3,188 506.2,193.4 508,208.8 528.8,208.8 529.7,224.2 530.6,242.8" fill="none" stroke="rgb(245,70,80)" stroke-width="1.1"/>
<path d="M428 161.7v-2M453.5 175.5v-2M458 175.5v-2M459 175.5v-2M470 176.1v-2M476.5 176.1v-2M482.5 176.1v-2M489 181.6v-2M491 181.6v-2M497.5 181.6v-2M520.5 209.6v-2M522.5 209.6v-2M530 224.8v-2" stroke="#222" stroke-width="0.75"/>
<polyline points="396.2,155.5 407.1,155.5 407.8,157.3 413.6,157.3 414.4,158.7 415.8,160.9 417.3,162.4 420.9,163.1 422.4,165.3 433.3,165.3 434,166.7 436.2,168.2 437.6,170.4 439.1,173.3 440.5,176.9 442,179.8 447.1,179.8 447.8,181.3 449.3,182.7 462.7,182.7 463.6,187.1 466.3,188 466.3,191.6 473.6,191.6 474.5,196.1 505.2,196.1 506.2,198.9 507.1,211.5 523.3,211.5" fill="none" stroke="rgb(75,80,245)" stroke-width="1.1"/>
<path d="M408 158.1v-2M411 158.1v-2M437.6 171.2v-2M438.5 172.8v-2M447.8 182.1v-2M450 183.5v-2M454 183.5v-2M456 183.5v-2M470 192.4v-2M471 192.4v-2M484.5 196.9v-2M489.5 196.9v-2M507.1 212.3v-2M514 212.3v-2M523.3 212.3v-2" stroke="#222" stroke-width="0.75"/>
<path d="M396.1 146.7H539.1V242.8" fill="none" stroke="#555" stroke-width="1"/>
<path d="M396.1 146.7V242.8H539.1" fill="none" stroke="#3a3a3a" stroke-width="1.15"/>
<path d="M396.1 242.8h-1.9M396.1 238.4h-1.5M396.1 234.1h-1.5M396.1 229.7h-1.5M396.1 225.3h-1.5M396.1 221h-1.5M396.1 216.6h-1.5M396.1 212.2h-1.5M396.1 207.8h-1.5M396.1 203.5h-1.5M396.1 199.1h-1.9M396.1 194.7h-1.5M396.1 190.4h-1.5M396.1 186h-1.5M396.1 181.6h-1.5M396.1 177.2h-1.5M396.1 172.9h-1.5M396.1 168.5h-1.5M396.1 164.1h-1.5M396.1 159.8h-1.5M396.1 155.4h-1.9M396.1 242.8v1.8M400.9 242.8v1.3M405.6 242.8v1.3M410.4 242.8v1.3M415.2 242.8v1.3M419.9 242.8v1.3M424.7 242.8v1.3M429.5 242.8v1.3M434.2 242.8v1.3M439 242.8v1.3M443.8 242.8v1.8M448.5 242.8v1.3M453.3 242.8v1.3M458.1 242.8v1.3M462.8 242.8v1.3M467.6 242.8v1.3M472.4 242.8v1.3M477.1 242.8v1.3M481.9 242.8v1.3M486.7 242.8v1.3M491.4 242.8v1.8M496.2 242.8v1.3M501 242.8v1.3M505.7 242.8v1.3M510.5 242.8v1.3M515.3 242.8v1.3M520 242.8v1.3M524.8 242.8v1.3M529.6 242.8v1.3M534.3 242.8v1.3M539.1 242.8v1.8" stroke="#111" stroke-width="1"/>
<text x="393.3" y="244.1" font-size="3.6" font-weight="bold" stroke="#000" stroke-width="0.15" text-anchor="end">0</text>
<text x="393.3" y="200.4" font-size="3.6" font-weight="bold" stroke="#000" stroke-width="0.15" text-anchor="end">50</text>
<text x="393.3" y="156.7" font-size="3.6" font-weight="bold" stroke="#000" stroke-width="0.15" text-anchor="end">100</text>
<text x="396.1" y="249.5" font-size="3.6" font-weight="bold" stroke="#000" stroke-width="0.15" text-anchor="middle">0</text>
<text x="443.8" y="249.5" font-size="3.6" font-weight="bold" stroke="#000" stroke-width="0.15" text-anchor="middle">50</text>
<text x="491.4" y="249.5" font-size="3.6" font-weight="bold" stroke="#000" stroke-width="0.15" text-anchor="middle">100</text>
<text x="539.1" y="249.5" font-size="3.6" font-weight="bold" stroke="#000" stroke-width="0.15" text-anchor="middle">150</text>
<text x="467.6" y="256.8" font-size="6" font-weight="bold" text-anchor="middle" stroke="#000" stroke-width="0.15">Months elapsed</text>
<text transform="translate(384.5 195.1) rotate(-90)" font-size="5.8" font-weight="bold" text-anchor="middle" stroke="#000" stroke-width="0.12" xml:space="preserve">Probability of Survival</text>
<text x="397.9" y="241.3" font-size="5.29" stroke="#000" stroke-width="0.08">log rank <tspan font-style="italic">p</tspan>=0.3106</text>
<rect x="484.1" y="148.5" width="55.9" height="15.2" fill="#fff" stroke="#aaa" stroke-width="0.5"/>
<path d="M489.8 153H495.7" stroke="rgb(75,80,245)" stroke-width="0.9"/>
<path d="M492.8 153v-1.5" stroke="#444" stroke-width="0.5"/>
<text x="498.1" y="154.7" font-size="4.55">Δ of CPS > median</text>
<path d="M489.8 159.5H495.7" stroke="rgb(245,70,80)" stroke-width="0.9"/>
<path d="M492.8 159.5v-1.5" stroke="#444" stroke-width="0.5"/>
<text x="498.1" y="161.2" font-size="4.55">Δ of CPS ≤ median</text>
<text x="369.9" y="152.6" font-size="10.3">F</text>
<polygon points="31.8,287.4 34.6,287.4 36,290 37.5,296 38.7,304 39.6,312.6 42.7,318 45.7,322.5 48,326.3 50.3,330.1 53.3,334 57.1,339.3 59.2,343.4 63,346.4 66.9,350.2 70.7,352.5 74.5,354.8 78.3,357.1 84,359.4 89.7,361.5 102.4,363.5 109,363.3 135,363.3 135,374 135,371.5 109,371.5 95,372 80,370.5 69.1,367.8 63,365.5 59.2,363.2 55.4,360.1 51.6,354.8 48.6,350.2 46.3,345.7 44,339.6 41.9,335.5 40.4,327.9 38.9,320.2 38.1,312.6 37.5,309 36.5,303 35.5,295 34.6,287.4" fill="rgb(252,190,185)"/>
<polygon points="31.6,287.5 34.9,287.5 35.5,288.6 38,288.6 38,294 41.7,294 41.7,301.1 47.1,301.1 47.1,310.3 68.5,310.3 68.5,333.4 109,333.4 109,374 109,374 57,374 57,365.6 46.9,365.6 46.9,359.3 41.9,359.3 41.9,351.5 34.6,351.5 34.6,287.5" fill="rgb(180,186,250)"/>
<polyline points="31.8,287.4 34.6,287.4 36,290 37.5,296 38.7,304 39.6,312.6 42.7,318 45.7,322.5 48,326.3 50.3,330.1 53.3,334 57.1,339.3 59.2,343.4 63,346.4 66.9,350.2 70.7,352.5 74.5,354.8 78.3,357.1 84,359.4 89.7,361.5 102.4,363.5 109,363.3 135,363.3 135,374" fill="none" stroke="rgb(240,150,195)" stroke-width="0.7"/>
<polyline points="34.6,287.4 35.5,295 36.5,303 37.5,309 38.1,312.6 38.9,320.2 40.4,327.9 41.9,335.5 44,339.6 46.3,345.7 48.6,350.2 51.6,354.8 55.4,360.1 59.2,363.2 63,365.5 69.1,367.8 80,370.5 95,372 109,371.5 135,371.5" fill="none" stroke="rgb(240,150,195)" stroke-width="0.7"/>
<polyline points="31.8,287.4 34.6,287.4 35.7,288.6 36.6,289.7 36.9,292.6 37.4,295.4 38,301.1 38.3,306.9 38.5,312.6 39.2,316.4 40,320.2 40.8,323.3 41.5,325.6 41.9,328.6 44.2,329.4 45.3,330.9 46.5,332.4 47.2,334 47.4,339.6 48.6,343.4 50.1,344.9 52.4,346 53.9,348 56.2,351 57.7,353.3 59.2,354.8 61.5,356.3 63,357.9 65.3,358.2 67.6,359.4 69.1,360.5 71.4,360.9 74.5,362.8 77.5,364.3 80.6,365.5 84,367 84.3,368.9 98.8,368.9 98.8,370.2 135,370.2 135,374" fill="none" stroke="rgb(245,70,80)" stroke-width="1.1"/>
<polyline points="31.6,287.5 34.6,287.5 34.9,289.7 34.9,299.4 35.7,300.6 35.7,312.2 41.5,312.2 41.5,324.4 47.6,324.4 47.6,336.6 68.5,336.6 68.5,361.5 109,361.5 109,374" fill="none" stroke="rgb(75,80,245)" stroke-width="1.1"/>
<path d="M31.6 279.1H174.6V374" fill="none" stroke="#555" stroke-width="1"/>
<path d="M31.6 279.1V374H174.6" fill="none" stroke="#3a3a3a" stroke-width="1.15"/>
<path d="M31.6 374h-1.9M31.6 369.7h-1.5M31.6 365.4h-1.5M31.6 361h-1.5M31.6 356.7h-1.5M31.6 352.4h-1.5M31.6 348.1h-1.5M31.6 343.8h-1.5M31.6 339.4h-1.5M31.6 335.1h-1.5M31.6 330.8h-1.9M31.6 326.5h-1.5M31.6 322.2h-1.5M31.6 317.8h-1.5M31.6 313.5h-1.5M31.6 309.2h-1.5M31.6 304.9h-1.5M31.6 300.6h-1.5M31.6 296.2h-1.5M31.6 291.9h-1.5M31.6 287.6h-1.9M31.6 374v1.8M36.4 374v1.3M41.1 374v1.3M45.9 374v1.3M50.7 374v1.3M55.4 374v1.3M60.2 374v1.3M65 374v1.3M69.7 374v1.3M74.5 374v1.3M79.3 374v1.8M84 374v1.3M88.8 374v1.3M93.6 374v1.3M98.3 374v1.3M103.1 374v1.3M107.9 374v1.3M112.6 374v1.3M117.4 374v1.3M122.2 374v1.3M126.9 374v1.8M131.7 374v1.3M136.5 374v1.3M141.2 374v1.3M146 374v1.3M150.8 374v1.3M155.5 374v1.3M160.3 374v1.3M165.1 374v1.3M169.8 374v1.3M174.6 374v1.8" stroke="#111" stroke-width="1"/>
<text x="28.8" y="375.2" font-size="3.6" font-weight="bold" stroke="#000" stroke-width="0.15" text-anchor="end">0</text>
<text x="28.8" y="332.1" font-size="3.6" font-weight="bold" stroke="#000" stroke-width="0.15" text-anchor="end">50</text>
<text x="28.8" y="288.9" font-size="3.6" font-weight="bold" stroke="#000" stroke-width="0.15" text-anchor="end">100</text>
<text x="31.6" y="380.7" font-size="3.6" font-weight="bold" stroke="#000" stroke-width="0.15" text-anchor="middle">0</text>
<text x="79.3" y="380.7" font-size="3.6" font-weight="bold" stroke="#000" stroke-width="0.15" text-anchor="middle">50</text>
<text x="126.9" y="380.7" font-size="3.6" font-weight="bold" stroke="#000" stroke-width="0.15" text-anchor="middle">100</text>
<text x="174.6" y="380.7" font-size="3.6" font-weight="bold" stroke="#000" stroke-width="0.15" text-anchor="middle">150</text>
<text x="103.1" y="388" font-size="6" font-weight="bold" text-anchor="middle" stroke="#000" stroke-width="0.15">Months elapsed</text>
<text transform="translate(20 326.9) rotate(-90)" font-size="5.8" font-weight="bold" text-anchor="middle" stroke="#000" stroke-width="0.12" xml:space="preserve">Probability to be recurrence-free</text>
<text x="33.8" y="372.5" font-size="5.12" stroke="#000" stroke-width="0.08">log rank <tspan font-style="italic">p</tspan>=0.6465</text>
<rect x="109.8" y="280.1" width="62" height="15" fill="#fff" stroke="#aaa" stroke-width="0.5"/>
<path d="M113.2 284.2H118.6" stroke="rgb(75,80,245)" stroke-width="0.9"/>
<path d="M115.9 284.2v-1.5" stroke="#444" stroke-width="0.5"/>
<text x="121.4" y="285.8" font-size="4.55">Initial PD-L1 positive</text>
<path d="M113.2 291.7H118.6" stroke="rgb(245,70,80)" stroke-width="0.9"/>
<path d="M115.9 291.7v-1.5" stroke="#444" stroke-width="0.5"/>
<text x="121.4" y="293.3" font-size="4.55">Initial PD-L1 not positive</text>
<text x="4.3" y="285" font-size="10.3">G</text>
<polygon points="213.6,287.4 218.1,287.4 219.1,290.7 221,294 223.4,298.3 226,300.5 227.9,302.3 229.4,305.9 230.8,310.3 232.3,311.4 241.7,311.4 243.2,316.1 243.9,317.2 258.5,318 259.9,322.6 261.4,325.5 265,326.1 318.2,326.1 318.2,360.6 318.2,360.6 261.6,360.6 258.9,358.9 258,347.1 243.5,347.1 242.6,334.5 228.1,334.5 227.2,323.6 224.5,318.2 222.7,307.3 220.9,300.1 219,292.9 218.1,287.4" fill="rgb(252,190,185)"/>
<polygon points="213.6,287.4 217.7,287.4 217.7,289.7 223.4,289.7 223.4,295.9 229.1,295.9 229.1,304.5 250.6,304.5 250.6,318.3 290.6,318.3 290.6,374 290.6,374 250.7,374 250.7,363.4 229,363.4 229,357.1 222.7,357.1 222.7,350.8 217.2,350.8 217.2,287.4" fill="rgb(180,186,250)"/>
<polyline points="213.6,287.4 218.1,287.4 219.1,290.7 221,294 223.4,298.3 226,300.5 227.9,302.3 229.4,305.9 230.8,310.3 232.3,311.4 241.7,311.4 243.2,316.1 243.9,317.2 258.5,318 259.9,322.6 261.4,325.5 265,326.1 318.2,326.1 318.2,360.6" fill="none" stroke="rgb(240,150,195)" stroke-width="0.7"/>
<polyline points="218.1,287.4 219,292.9 220.9,300.1 222.7,307.3 224.5,318.2 227.2,323.6 228.1,334.5 242.6,334.5 243.5,347.1 258,347.1 258.9,358.9 261.6,360.6 318.2,360.6" fill="none" stroke="rgb(240,150,195)" stroke-width="0.7"/>
<polyline points="213.6,287.4 218.1,287.4 219,290.1 220,292.9 220.9,295.6 221.8,298.3 222.7,301.9 223.6,310 226.3,311 227.2,313.7 229,315.5 229.9,320 230.8,322.7 242.6,322.7 243.5,330.9 258,330.9 258.9,336.3 260.7,343.6 318.2,343.6" fill="none" stroke="rgb(245,70,80)" stroke-width="1.1"/>
<path d="M220.9 296.4v-2M227.2 311.8v-2M229 316.3v-2M235.3 323.5v-2M237.1 323.5v-2M239 323.5v-2M253.4 331.7v-2M256.2 331.7v-2M266.1 344.4v-2M279.7 344.4v-2M316.5 344.4v-2M318.2 344.4v-2" stroke="#222" stroke-width="0.75"/>
<polyline points="213.6,287.4 217.2,287.4 217.2,302.8 222.7,302.8 222.7,316.4 228.1,316.4 228.1,330.9 249.8,330.9 249.8,352.6 290.6,352.6 290.6,374" fill="none" stroke="rgb(75,80,245)" stroke-width="1.1"/>
<path d="M218.1 288.2v-2M228.1 317.2v-2M248.9 331.7v-2M290.6 353.4v-2" stroke="#222" stroke-width="0.75"/>
<path d="M213.2 279.1H356.2V374" fill="none" stroke="#555" stroke-width="1"/>
<path d="M213.2 279.1V374H356.2" fill="none" stroke="#3a3a3a" stroke-width="1.15"/>
<path d="M213.2 374h-1.9M213.2 369.7h-1.5M213.2 365.4h-1.5M213.2 361h-1.5M213.2 356.7h-1.5M213.2 352.4h-1.5M213.2 348.1h-1.5M213.2 343.8h-1.5M213.2 339.4h-1.5M213.2 335.1h-1.5M213.2 330.8h-1.9M213.2 326.5h-1.5M213.2 322.2h-1.5M213.2 317.8h-1.5M213.2 313.5h-1.5M213.2 309.2h-1.5M213.2 304.9h-1.5M213.2 300.6h-1.5M213.2 296.2h-1.5M213.2 291.9h-1.5M213.2 287.6h-1.9M213.2 374v1.8M218 374v1.3M222.7 374v1.3M227.5 374v1.3M232.3 374v1.3M237 374v1.3M241.8 374v1.3M246.6 374v1.3M251.3 374v1.3M256.1 374v1.3M260.9 374v1.8M265.6 374v1.3M270.4 374v1.3M275.2 374v1.3M279.9 374v1.3M284.7 374v1.3M289.5 374v1.3M294.2 374v1.3M299 374v1.3M303.8 374v1.3M308.5 374v1.8M313.3 374v1.3M318.1 374v1.3M322.8 374v1.3M327.6 374v1.3M332.4 374v1.3M337.1 374v1.3M341.9 374v1.3M346.7 374v1.3M351.4 374v1.3M356.2 374v1.8" stroke="#111" stroke-width="1"/>
<text x="210.4" y="375.2" font-size="3.6" font-weight="bold" stroke="#000" stroke-width="0.15" text-anchor="end">0</text>
<text x="210.4" y="332.1" font-size="3.6" font-weight="bold" stroke="#000" stroke-width="0.15" text-anchor="end">50</text>
<text x="210.4" y="288.9" font-size="3.6" font-weight="bold" stroke="#000" stroke-width="0.15" text-anchor="end">100</text>
<text x="213.2" y="380.7" font-size="3.6" font-weight="bold" stroke="#000" stroke-width="0.15" text-anchor="middle">0</text>
<text x="260.9" y="380.7" font-size="3.6" font-weight="bold" stroke="#000" stroke-width="0.15" text-anchor="middle">50</text>
<text x="308.5" y="380.7" font-size="3.6" font-weight="bold" stroke="#000" stroke-width="0.15" text-anchor="middle">100</text>
<text x="356.2" y="380.7" font-size="3.6" font-weight="bold" stroke="#000" stroke-width="0.15" text-anchor="middle">150</text>
<text x="284.7" y="388" font-size="6" font-weight="bold" text-anchor="middle" stroke="#000" stroke-width="0.15">Months elapsed</text>
<text transform="translate(201.6 326.9) rotate(-90)" font-size="5.69" font-weight="bold" text-anchor="middle" stroke="#000" stroke-width="0.12" xml:space="preserve">Probability to be  free of progression</text>
<text x="214.9" y="372.5" font-size="5.25" stroke="#000" stroke-width="0.08">log rank <tspan font-style="italic">p</tspan>=0.3565</text>
<rect x="294.5" y="280.8" width="60" height="15" fill="#fff" stroke="#aaa" stroke-width="0.5"/>
<path d="M295.9 284.2H302" stroke="rgb(75,80,245)" stroke-width="0.9"/>
<path d="M298.9 284.2v-1.5" stroke="#444" stroke-width="0.5"/>
<text x="304.7" y="285.8" font-size="4.55">Initial PD-L1 positive</text>
<path d="M295.9 291.7H302" stroke="rgb(245,70,80)" stroke-width="0.9"/>
<path d="M298.9 291.7v-1.5" stroke="#444" stroke-width="0.5"/>
<text x="304.7" y="293.3" font-size="4.55">Initial PD-L1 not positive</text>
<text x="185.5" y="285" font-size="10.3">H</text>
<polygon points="395.8,287.8 406.8,287.8 420.8,288.5 421.8,290.4 427.3,291.3 430,293.1 432.7,293.1 434.5,294.9 438.2,297.6 440,299 448.3,301.9 460,301 467.2,301 467.2,304.6 485.3,311 503.4,311.9 503.4,314 508,314 508,320 528.8,320 528.8,374 528.8,374 528.8,359.8 512.5,359.8 512.5,350.8 507.1,347.1 504.3,337.2 485.3,337.2 472.7,329 465.4,325.4 461,324.5 448.3,323.6 441.1,319.5 437.3,316.7 434.5,313.1 432.7,310.4 430,308.5 427.3,306.7 423.6,304.9 420.9,302.2 417.3,301.7 417.3,300.4 413.6,300.4 413.6,298.5 406.8,298.5 406.8,287.8" fill="rgb(252,190,185)"/>
<polygon points="395.8,287.8 420.8,287.8 420.8,289.6 448.3,289.6 448.3,295.6 503.4,295.6 503.4,314.6 512.5,314.6 512.5,370.7 512.5,370.7 503.4,370.7 503.4,355.5 448.3,355.5 448.3,345.3 420.8,345.3 420.8,287.8" fill="rgb(180,186,250)"/>
<polyline points="395.8,287.8 406.8,287.8 420.8,288.5 421.8,290.4 427.3,291.3 430,293.1 432.7,293.1 434.5,294.9 438.2,297.6 440,299 448.3,301.9 460,301 467.2,301 467.2,304.6 485.3,311 503.4,311.9 503.4,314 508,314 508,320 528.8,320 528.8,374" fill="none" stroke="rgb(240,150,195)" stroke-width="0.7"/>
<polyline points="406.8,287.8 406.8,298.5 413.6,298.5 413.6,300.4 417.3,300.4 417.3,301.7 420.9,302.2 423.6,304.9 427.3,306.7 430,308.5 432.7,310.4 434.5,313.1 437.3,316.7 441.1,319.5 448.3,323.6 461,324.5 465.4,325.4 472.7,329 485.3,337.2 504.3,337.2 507.1,347.1 512.5,350.8 512.5,359.8 528.8,359.8 528.8,374" fill="none" stroke="rgb(240,150,195)" stroke-width="0.7"/>
<polyline points="395.8,287.8 406.7,287.8 407.6,288.9 413.9,288.9 414.8,290.1 417.5,291 419.3,292 421.1,292.9 422.1,294.7 423,295.6 428.4,296.5 430.2,297.4 432.9,298.3 434.7,300.1 436.5,301.9 438.3,303.7 439.2,305.5 442.9,308.2 446.5,309.1 448.3,311 460,311 461.9,313.7 464.5,314.6 465.4,315.5 473.6,315.5 473.6,319.1 485.3,319.1 485.3,322.7 503.4,322.7 504.3,329 508,330 508,339.9 528.8,339.9 528.8,356.2 529.7,374" fill="none" stroke="rgb(245,70,80)" stroke-width="1.1"/>
<path d="M407.8 289.7v-2M411.5 289.7v-2M429.6 297.3v-2M436.2 301.8v-2M452 311.8v-2M455.5 311.8v-2M457.5 311.8v-2M470 316.3v-2M476 319.9v-2M478 319.9v-2M482 319.9v-2M489 323.5v-2M491 323.5v-2M497 323.5v-2M518.6 340.7v-2M521.3 340.7v-2M529.5 357.8v-2" stroke="#222" stroke-width="0.75"/>
<polyline points="395.8,287.8 420.8,287.8 420.8,300.1 448.3,300.1 448.3,315.3 502.5,315.3 502.5,330 505.2,330 505.2,344.4 512.5,344.4" fill="none" stroke="rgb(75,80,245)" stroke-width="1.1"/>
<path d="M436 300.9v-2M470.9 316.1v-2M472.5 316.1v-2M505.2 345.2v-2M512.5 345.2v-2" stroke="#222" stroke-width="0.75"/>
<path d="M396.1 279.1H539.1V374" fill="none" stroke="#555" stroke-width="1"/>
<path d="M396.1 279.1V374H539.1" fill="none" stroke="#3a3a3a" stroke-width="1.15"/>
<path d="M396.1 374h-1.9M396.1 369.7h-1.5M396.1 365.4h-1.5M396.1 361h-1.5M396.1 356.7h-1.5M396.1 352.4h-1.5M396.1 348.1h-1.5M396.1 343.8h-1.5M396.1 339.4h-1.5M396.1 335.1h-1.5M396.1 330.8h-1.9M396.1 326.5h-1.5M396.1 322.2h-1.5M396.1 317.8h-1.5M396.1 313.5h-1.5M396.1 309.2h-1.5M396.1 304.9h-1.5M396.1 300.6h-1.5M396.1 296.2h-1.5M396.1 291.9h-1.5M396.1 287.6h-1.9M396.1 374v1.8M400.9 374v1.3M405.6 374v1.3M410.4 374v1.3M415.2 374v1.3M419.9 374v1.3M424.7 374v1.3M429.5 374v1.3M434.2 374v1.3M439 374v1.3M443.8 374v1.8M448.5 374v1.3M453.3 374v1.3M458.1 374v1.3M462.8 374v1.3M467.6 374v1.3M472.4 374v1.3M477.1 374v1.3M481.9 374v1.3M486.7 374v1.3M491.4 374v1.8M496.2 374v1.3M501 374v1.3M505.7 374v1.3M510.5 374v1.3M515.3 374v1.3M520 374v1.3M524.8 374v1.3M529.6 374v1.3M534.3 374v1.3M539.1 374v1.8" stroke="#111" stroke-width="1"/>
<text x="393.3" y="375.2" font-size="3.6" font-weight="bold" stroke="#000" stroke-width="0.15" text-anchor="end">0</text>
<text x="393.3" y="332.1" font-size="3.6" font-weight="bold" stroke="#000" stroke-width="0.15" text-anchor="end">50</text>
<text x="393.3" y="288.9" font-size="3.6" font-weight="bold" stroke="#000" stroke-width="0.15" text-anchor="end">100</text>
<text x="396.1" y="380.7" font-size="3.6" font-weight="bold" stroke="#000" stroke-width="0.15" text-anchor="middle">0</text>
<text x="443.8" y="380.7" font-size="3.6" font-weight="bold" stroke="#000" stroke-width="0.15" text-anchor="middle">50</text>
<text x="491.4" y="380.7" font-size="3.6" font-weight="bold" stroke="#000" stroke-width="0.15" text-anchor="middle">100</text>
<text x="539.1" y="380.7" font-size="3.6" font-weight="bold" stroke="#000" stroke-width="0.15" text-anchor="middle">150</text>
<text x="467.6" y="388" font-size="6" font-weight="bold" text-anchor="middle" stroke="#000" stroke-width="0.15">Months elapsed</text>
<text transform="translate(384.5 326.9) rotate(-90)" font-size="5.8" font-weight="bold" text-anchor="middle" stroke="#000" stroke-width="0.12" xml:space="preserve">Probability of Survival</text>
<text x="397.9" y="372.5" font-size="5.25" stroke="#000" stroke-width="0.08">log rank <tspan font-style="italic">p</tspan>=0.8349</text>
<rect x="473" y="280.8" width="62.5" height="15" fill="#fff" stroke="#aaa" stroke-width="0.5"/>
<path d="M474.8 285.2H480.6" stroke="rgb(75,80,245)" stroke-width="0.9"/>
<path d="M477.7 285.2v-1.5" stroke="#444" stroke-width="0.5"/>
<text x="483.4" y="286.8" font-size="4.55">Initial PD-L1 positive</text>
<path d="M474.8 292.4H480.6" stroke="rgb(245,70,80)" stroke-width="0.9"/>
<path d="M477.7 292.4v-1.5" stroke="#444" stroke-width="0.5"/>
<text x="483.4" y="294" font-size="4.55">Initial PD-L1 not positive</text>
<text x="369.9" y="285" font-size="10.3">I</text>
<polygon points="31.8,418.8 35.4,418.8 37.2,423.9 40,431.1 42.7,443.8 46.3,454.6 49.9,460 55.3,465.5 60.8,472.7 66.2,480 73.4,485.4 80.7,489 89.7,492.6 98.5,492.8 108.7,492.8 108.7,495 135.6,495 135.6,505.3 135.6,504.5 108.7,504.5 108.7,501.5 98.5,501.5 90,501.5 80,500.5 72.6,500.2 72.6,498.3 62.2,498.3 62.2,495.7 54.4,495.7 54.4,490.5 47.3,490.5 47.3,483.4 45.8,480 43,470.9 40.3,461.9 38.5,449.2 37,431.1 36.3,418.8" fill="rgb(252,190,185)"/>
<polygon points="31.8,418.8 39.4,418.8 39.4,433.8 55.3,433.8 55.3,440.1 62.6,440.1 62.6,447.4 74.3,447.4 74.3,455 79.6,455 79.6,463.7 84,463.7 84,473.9 98.5,473.9 98.5,505.3 98.5,505.3 84.3,505.3 84.3,499.6 72.6,499.6 72.6,494.4 62.2,494.4 62.2,490.5 54.4,490.5 54.4,483.4 47.3,483.4 47.3,482.7 37,482.7 37,440 36.8,428 36.3,418.8" fill="rgb(180,186,250)"/>
<polyline points="31.8,418.8 35.4,418.8 37.2,423.9 40,431.1 42.7,443.8 46.3,454.6 49.9,460 55.3,465.5 60.8,472.7 66.2,480 73.4,485.4 80.7,489 89.7,492.6 98.5,492.8 108.7,492.8 108.7,495 135.6,495 135.6,505.3" fill="none" stroke="rgb(240,150,195)" stroke-width="0.7"/>
<polyline points="36.3,418.8 37,431.1 38.5,449.2 40.3,461.9 43,470.9 45.8,480 47.3,483.4 47.3,490.5 54.4,490.5 54.4,495.7 62.2,495.7 62.2,498.3 72.6,498.3 72.6,500.2 80,500.5 90,501.5 98.5,501.5 108.7,501.5 108.7,504.5 135.6,504.5" fill="none" stroke="rgb(240,150,195)" stroke-width="0.7"/>
<polyline points="31.8,418.8 35.4,418.8 36.3,422 37.2,427.5 38,434.7 38.5,442 38.9,453 40.8,453.6 42.1,460.7 44.7,465.9 46.7,471.1 48,477.6 50.5,480.2 54.4,484 58.3,487.9 62.2,490.5 67.4,493.1 72.6,495.7 73.9,497 85,498.3 86.1,500.1 108,500.1 109.5,501.5 134.9,501.5 136.4,505.3" fill="none" stroke="rgb(245,70,80)" stroke-width="1.1"/>
<polyline points="31.8,418.8 36.3,418.8 37.2,423.9 38.1,431.1 39,442 40,453.7 55.3,453.7 55.3,462.3 62.2,462.3 62.2,470.3 74.5,470.3 74.5,479 79.6,479 79.6,487.7 83.3,487.7 84,496.5 98.5,496.5 98.5,505.3" fill="none" stroke="rgb(75,80,245)" stroke-width="1.1"/>
<path d="M31.6 410.3H174.6V505.3" fill="none" stroke="#555" stroke-width="1"/>
<path d="M31.6 410.3V505.3H174.6" fill="none" stroke="#3a3a3a" stroke-width="1.15"/>
<path d="M31.6 505.3h-1.9M31.6 501h-1.5M31.6 496.6h-1.5M31.6 492.3h-1.5M31.6 488h-1.5M31.6 483.6h-1.5M31.6 479.3h-1.5M31.6 475h-1.5M31.6 470.7h-1.5M31.6 466.3h-1.5M31.6 462h-1.9M31.6 457.7h-1.5M31.6 453.3h-1.5M31.6 449h-1.5M31.6 444.7h-1.5M31.6 440.4h-1.5M31.6 436h-1.5M31.6 431.7h-1.5M31.6 427.4h-1.5M31.6 423h-1.5M31.6 418.7h-1.9M31.6 505.3v1.8M36.4 505.3v1.3M41.1 505.3v1.3M45.9 505.3v1.3M50.7 505.3v1.3M55.4 505.3v1.3M60.2 505.3v1.3M65 505.3v1.3M69.7 505.3v1.3M74.5 505.3v1.3M79.3 505.3v1.8M84 505.3v1.3M88.8 505.3v1.3M93.6 505.3v1.3M98.3 505.3v1.3M103.1 505.3v1.3M107.9 505.3v1.3M112.6 505.3v1.3M117.4 505.3v1.3M122.2 505.3v1.3M126.9 505.3v1.8M131.7 505.3v1.3M136.5 505.3v1.3M141.2 505.3v1.3M146 505.3v1.3M150.8 505.3v1.3M155.5 505.3v1.3M160.3 505.3v1.3M165.1 505.3v1.3M169.8 505.3v1.3M174.6 505.3v1.8" stroke="#111" stroke-width="1"/>
<text x="28.8" y="506.6" font-size="3.6" font-weight="bold" stroke="#000" stroke-width="0.15" text-anchor="end">0</text>
<text x="28.8" y="463.2" font-size="3.6" font-weight="bold" stroke="#000" stroke-width="0.15" text-anchor="end">50</text>
<text x="28.8" y="419.9" font-size="3.6" font-weight="bold" stroke="#000" stroke-width="0.15" text-anchor="end">100</text>
<text x="31.6" y="512" font-size="3.6" font-weight="bold" stroke="#000" stroke-width="0.15" text-anchor="middle">0</text>
<text x="79.3" y="512" font-size="3.6" font-weight="bold" stroke="#000" stroke-width="0.15" text-anchor="middle">50</text>
<text x="126.9" y="512" font-size="3.6" font-weight="bold" stroke="#000" stroke-width="0.15" text-anchor="middle">100</text>
<text x="174.6" y="512" font-size="3.6" font-weight="bold" stroke="#000" stroke-width="0.15" text-anchor="middle">150</text>
<text x="103.1" y="519.3" font-size="6" font-weight="bold" text-anchor="middle" stroke="#000" stroke-width="0.15">Months elapsed</text>
<text transform="translate(20 458.1) rotate(-90)" font-size="5.8" font-weight="bold" text-anchor="middle" stroke="#000" stroke-width="0.12" xml:space="preserve">Probability to be recurrence-free</text>
<text x="33.8" y="503.8" font-size="5.12" stroke="#000" stroke-width="0.08">log rank <tspan font-style="italic">p</tspan>=0.2823</text>
<rect x="119.3" y="411.1" width="53.9" height="15" fill="#fff" stroke="#aaa" stroke-width="0.5"/>
<path d="M121.4 415.9H127.5" stroke="rgb(75,80,245)" stroke-width="0.9"/>
<path d="M124.5 415.9v-1.5" stroke="#444" stroke-width="0.5"/>
<text x="129.5" y="417.5" font-size="4.55">Δ of PD-L1 status</text>
<path d="M121.4 422.7H127.5" stroke="rgb(245,70,80)" stroke-width="0.9"/>
<path d="M124.5 422.7v-1.5" stroke="#444" stroke-width="0.5"/>
<text x="129.5" y="424.3" font-size="4.55">No Δ of PD-L1 status</text>
<text x="4.3" y="416.2" font-size="10.3">J</text>
<polygon points="213.6,418.8 217.2,418.8 219.5,419.5 221,424 222.5,428 223.6,432.9 225,434.5 230,436 232,445.6 242.6,445.6 243.5,450 261.6,451 261.6,458.2 290.1,458.2 290.1,464.9 317.6,464.9 317.6,501 317.6,501 290.1,501 290.1,493.9 258,493.9 258,487.2 249.8,487.2 249.8,480 243.5,480 243.5,471.8 231.2,471.8 229.5,469 228,458 225,451 222,442 220.9,432 219.5,431.2 218.3,428 217.4,422 217.2,418.8" fill="rgb(252,190,185)"/>
<polygon points="213.6,418.8 217.2,418.8 219,421 220,424.8 243.5,424.8 243.5,432 261.6,432 261.6,442 279.7,442 279.7,499.5 279.7,499.5 261.6,499.5 261.6,493.5 243.5,493.5 243.5,478.1 220.9,478.1 220.9,424.8 220,424.8 219,424 217.2,418.8" fill="rgb(180,186,250)"/>
<polyline points="213.6,418.8 217.2,418.8 219.5,419.5 221,424 222.5,428 223.6,432.9 225,434.5 230,436 232,445.6 242.6,445.6 243.5,450 261.6,451 261.6,458.2 290.1,458.2 290.1,464.9 317.6,464.9 317.6,501" fill="none" stroke="rgb(240,150,195)" stroke-width="0.7"/>
<polyline points="217.2,418.8 217.4,422 218.3,428 219.5,431.2 220.9,432 222,442 225,451 228,458 229.5,469 231.2,471.8 243.5,471.8 243.5,480 249.8,480 249.8,487.2 258,487.2 258,493.9 290.1,493.9 290.1,501 317.6,501" fill="none" stroke="rgb(240,150,195)" stroke-width="0.7"/>
<polyline points="213.6,418.8 217.2,418.8 218.1,420.5 219,423 220,426 221.5,429 222.7,432 223.3,442 226.5,443 228.5,444.3 229,451 230.8,457.3 232.6,459.1 242.6,459.1 242.6,462.8 248.9,462.8 249.8,467.3 257.1,470 258,476.5 290.1,476.5 290.1,486.2 317.6,486.2" fill="none" stroke="rgb(245,70,80)" stroke-width="1.1"/>
<path d="M226.3 444.6v-2M229 451.8v-2M235.5 459.9v-2M237.5 459.9v-2M239.5 459.9v-2M250 468.1v-2M253 470.8v-2M266.6 477.3v-2M315.5 487v-2M317.6 487v-2" stroke="#222" stroke-width="0.75"/>
<polyline points="213.6,418.8 217.2,418.8 218.1,421.1 219,423.9 220,427.5 220.9,432.9 220.9,440.1 243.5,440.1 243.5,453.2 261.6,453.2 261.6,470.3 279.7,470.3" fill="none" stroke="rgb(75,80,245)" stroke-width="1.1"/>
<path d="M216.5 419.6v-2M218.1 419.6v-2M236.8 440.9v-2M256 454v-2M265.7 471.1v-2M279.7 471.1v-2" stroke="#222" stroke-width="0.75"/>
<path d="M213.2 410.3H356.2V505.3" fill="none" stroke="#555" stroke-width="1"/>
<path d="M213.2 410.3V505.3H356.2" fill="none" stroke="#3a3a3a" stroke-width="1.15"/>
<path d="M213.2 505.3h-1.9M213.2 501h-1.5M213.2 496.6h-1.5M213.2 492.3h-1.5M213.2 488h-1.5M213.2 483.6h-1.5M213.2 479.3h-1.5M213.2 475h-1.5M213.2 470.7h-1.5M213.2 466.3h-1.5M213.2 462h-1.9M213.2 457.7h-1.5M213.2 453.3h-1.5M213.2 449h-1.5M213.2 444.7h-1.5M213.2 440.4h-1.5M213.2 436h-1.5M213.2 431.7h-1.5M213.2 427.4h-1.5M213.2 423h-1.5M213.2 418.7h-1.9M213.2 505.3v1.8M218 505.3v1.3M222.7 505.3v1.3M227.5 505.3v1.3M232.3 505.3v1.3M237 505.3v1.3M241.8 505.3v1.3M246.6 505.3v1.3M251.3 505.3v1.3M256.1 505.3v1.3M260.9 505.3v1.8M265.6 505.3v1.3M270.4 505.3v1.3M275.2 505.3v1.3M279.9 505.3v1.3M284.7 505.3v1.3M289.5 505.3v1.3M294.2 505.3v1.3M299 505.3v1.3M303.8 505.3v1.3M308.5 505.3v1.8M313.3 505.3v1.3M318.1 505.3v1.3M322.8 505.3v1.3M327.6 505.3v1.3M332.4 505.3v1.3M337.1 505.3v1.3M341.9 505.3v1.3M346.7 505.3v1.3M351.4 505.3v1.3M356.2 505.3v1.8" stroke="#111" stroke-width="1"/>
<text x="210.4" y="506.6" font-size="3.6" font-weight="bold" stroke="#000" stroke-width="0.15" text-anchor="end">0</text>
<text x="210.4" y="463.2" font-size="3.6" font-weight="bold" stroke="#000" stroke-width="0.15" text-anchor="end">50</text>
<text x="210.4" y="419.9" font-size="3.6" font-weight="bold" stroke="#000" stroke-width="0.15" text-anchor="end">100</text>
<text x="213.2" y="512" font-size="3.6" font-weight="bold" stroke="#000" stroke-width="0.15" text-anchor="middle">0</text>
<text x="260.9" y="512" font-size="3.6" font-weight="bold" stroke="#000" stroke-width="0.15" text-anchor="middle">50</text>
<text x="308.5" y="512" font-size="3.6" font-weight="bold" stroke="#000" stroke-width="0.15" text-anchor="middle">100</text>
<text x="356.2" y="512" font-size="3.6" font-weight="bold" stroke="#000" stroke-width="0.15" text-anchor="middle">150</text>
<text x="284.7" y="519.3" font-size="6" font-weight="bold" text-anchor="middle" stroke="#000" stroke-width="0.15">Months elapsed</text>
<text transform="translate(201.6 458.1) rotate(-90)" font-size="5.78" font-weight="bold" text-anchor="middle" stroke="#000" stroke-width="0.12" xml:space="preserve">Probability to be free of progression</text>
<text x="214.9" y="503.8" font-size="5.25" stroke="#000" stroke-width="0.08">log rank <tspan font-style="italic">p</tspan>=0.5054</text>
<rect x="301.3" y="411.1" width="53.5" height="15.7" fill="#fff" stroke="#aaa" stroke-width="0.5"/>
<path d="M303.1 416.2H308.8" stroke="rgb(75,80,245)" stroke-width="0.9"/>
<path d="M306 416.2v-1.5" stroke="#444" stroke-width="0.5"/>
<text x="311.3" y="417.8" font-size="4.55">Δ of PD-L1 status</text>
<path d="M303.1 422.7H308.8" stroke="rgb(245,70,80)" stroke-width="0.9"/>
<path d="M306 422.7v-1.5" stroke="#444" stroke-width="0.5"/>
<text x="311.3" y="424.3" font-size="4.55">No Δ of PD-L1 status</text>
<text x="185.5" y="416.2" font-size="10.3">K</text>
<polygon points="395.8,418.8 406.7,418.8 412,419.5 419.3,421.1 426.6,423 433.8,424.8 434.7,428.4 448.3,428.6 448.3,435.6 460,436 460,436.5 472.7,436.5 472.7,438.3 485.3,438.3 485.3,442 505.2,442 505.2,449.2 528.8,449.2 528.8,505.3 528.8,505.3 528.8,489 505.2,489 505.2,475.4 502.5,475.4 502.5,467.3 485.3,467.3 485.3,464 472.7,464 472.7,461 461,461 461,458.2 448.3,458.2 448.3,452 441.1,452 441.1,449.2 434.7,449.2 432,442 432,441 426.6,441 426.6,438.3 423,438.3 423,434.7 419.3,434.7 419.3,432 412,432 412,430.2 406.7,430.2 406.7,418.8" fill="rgb(252,190,185)"/>
<polygon points="395.8,418.8 433.8,418.8 434.7,420.2 465.4,420.2 465.4,427.5 505.2,427.5 505.2,498 505.2,498 465.4,498 465.4,467.3 433.8,467.3 433.8,418.8" fill="rgb(180,186,250)"/>
<clipPath id="c32"><polygon points="395.8,418.8 406.7,418.8 412,419.5 419.3,421.1 426.6,423 433.8,424.8 434.7,428.4 448.3,428.6 448.3,435.6 460,436 460,436.5 472.7,436.5 472.7,438.3 485.3,438.3 485.3,442 505.2,442 505.2,449.2 528.8,449.2 528.8,505.3 528.8,505.3 528.8,489 505.2,489 505.2,475.4 502.5,475.4 502.5,467.3 485.3,467.3 485.3,464 472.7,464 472.7,461 461,461 461,458.2 448.3,458.2 448.3,452 441.1,452 441.1,449.2 434.7,449.2 432,442 432,441 426.6,441 426.6,438.3 423,438.3 423,434.7 419.3,434.7 419.3,432 412,432 412,430.2 406.7,430.2 406.7,418.8"/></clipPath>
<polygon points="395.8,418.8 433.8,418.8 434.7,420.2 465.4,420.2 465.4,427.5 505.2,427.5 505.2,498 505.2,498 465.4,498 465.4,467.3 433.8,467.3 433.8,418.8" fill="rgb(196,150,212)" clip-path="url(#c32)"/>
<polyline points="395.8,418.8 406.7,418.8 407.6,420.2 413.9,420.2 414.8,422 419.3,423.9 421.1,425.7 423,427.5 424.8,429.3 428.4,430.2 432,431.1 433.8,432 435.6,432.9 437.4,434.7 439.2,437.4 441.1,440.1 446.5,441 448.3,443.8 461,444.7 462.8,446.5 472.7,446.5 473.6,449.2 485.3,450.1 485.3,452.8 502.5,452.8 503.4,458.2 506.2,459.1 507.1,465.5 508,470.9 528.8,470.9 528.8,488.1 529.7,505.3" fill="none" stroke="rgb(245,70,80)" stroke-width="1.1"/>
<path d="M409.5 421v-2M430 431v-2M437.5 435.5v-2M449.5 444.6v-2M452.5 445.5v-2M455 445.5v-2M458 445.5v-2M470 447.3v-2M471.5 447.3v-2M476.5 450v-2M478.5 450v-2M482.5 450v-2M489 453.6v-2M491 453.6v-2M497.5 453.6v-2M512.5 471.7v-2M518.6 471.7v-2M521.3 471.7v-2M529.5 488.8v-2" stroke="#222" stroke-width="0.75"/>
<polyline points="395.8,418.8 433.8,418.8 434.7,428.4 465.4,428.4 465.4,454.3 505.2,454.3 505.2,505.3" fill="none" stroke="rgb(75,80,245)" stroke-width="1.1"/>
<path d="M407.6 419.6v-2M436 429.2v-2M437.5 429.2v-2M446.5 429.2v-2M456 429.2v-2M505.2 455.1v-2" stroke="#222" stroke-width="0.75"/>
<path d="M396.1 410.3H539.1V505.3" fill="none" stroke="#555" stroke-width="1"/>
<path d="M396.1 410.3V505.3H539.1" fill="none" stroke="#3a3a3a" stroke-width="1.15"/>
<path d="M396.1 505.3h-1.9M396.1 501h-1.5M396.1 496.6h-1.5M396.1 492.3h-1.5M396.1 488h-1.5M396.1 483.6h-1.5M396.1 479.3h-1.5M396.1 475h-1.5M396.1 470.7h-1.5M396.1 466.3h-1.5M396.1 462h-1.9M396.1 457.7h-1.5M396.1 453.3h-1.5M396.1 449h-1.5M396.1 444.7h-1.5M396.1 440.4h-1.5M396.1 436h-1.5M396.1 431.7h-1.5M396.1 427.4h-1.5M396.1 423h-1.5M396.1 418.7h-1.9M396.1 505.3v1.8M400.9 505.3v1.3M405.6 505.3v1.3M410.4 505.3v1.3M415.2 505.3v1.3M419.9 505.3v1.3M424.7 505.3v1.3M429.5 505.3v1.3M434.2 505.3v1.3M439 505.3v1.3M443.8 505.3v1.8M448.5 505.3v1.3M453.3 505.3v1.3M458.1 505.3v1.3M462.8 505.3v1.3M467.6 505.3v1.3M472.4 505.3v1.3M477.1 505.3v1.3M481.9 505.3v1.3M486.7 505.3v1.3M491.4 505.3v1.8M496.2 505.3v1.3M501 505.3v1.3M505.7 505.3v1.3M510.5 505.3v1.3M515.3 505.3v1.3M520 505.3v1.3M524.8 505.3v1.3M529.6 505.3v1.3M534.3 505.3v1.3M539.1 505.3v1.8" stroke="#111" stroke-width="1"/>
<text x="393.3" y="506.6" font-size="3.6" font-weight="bold" stroke="#000" stroke-width="0.15" text-anchor="end">0</text>
<text x="393.3" y="463.2" font-size="3.6" font-weight="bold" stroke="#000" stroke-width="0.15" text-anchor="end">50</text>
<text x="393.3" y="419.9" font-size="3.6" font-weight="bold" stroke="#000" stroke-width="0.15" text-anchor="end">100</text>
<text x="396.1" y="512" font-size="3.6" font-weight="bold" stroke="#000" stroke-width="0.15" text-anchor="middle">0</text>
<text x="443.8" y="512" font-size="3.6" font-weight="bold" stroke="#000" stroke-width="0.15" text-anchor="middle">50</text>
<text x="491.4" y="512" font-size="3.6" font-weight="bold" stroke="#000" stroke-width="0.15" text-anchor="middle">100</text>
<text x="539.1" y="512" font-size="3.6" font-weight="bold" stroke="#000" stroke-width="0.15" text-anchor="middle">150</text>
<text x="467.6" y="519.3" font-size="6" font-weight="bold" text-anchor="middle" stroke="#000" stroke-width="0.15">Months elapsed</text>
<text transform="translate(384.5 458.1) rotate(-90)" font-size="5.8" font-weight="bold" text-anchor="middle" stroke="#000" stroke-width="0.12" xml:space="preserve">Probability of Survival</text>
<text x="398.3" y="503.8" font-size="5.1" stroke="#000" stroke-width="0.08">log rank <tspan font-style="italic">p</tspan>=0.9221</text>
<rect x="483.4" y="411.1" width="54.1" height="15.7" fill="#fff" stroke="#aaa" stroke-width="0.5"/>
<path d="M485.7 416.6H491.8" stroke="rgb(75,80,245)" stroke-width="0.9"/>
<path d="M488.8 416.6v-1.5" stroke="#444" stroke-width="0.5"/>
<text x="494.3" y="418.2" font-size="4.55">Δ of PD-L1 status</text>
<path d="M485.7 422.7H491.8" stroke="rgb(245,70,80)" stroke-width="0.9"/>
<path d="M488.8 422.7v-1.5" stroke="#444" stroke-width="0.5"/>
<text x="494.3" y="424.3" font-size="4.55">No Δ of PD-L1 status</text>
<text x="369.9" y="416.2" font-size="10.3">L</text>
</svg></body></html>
